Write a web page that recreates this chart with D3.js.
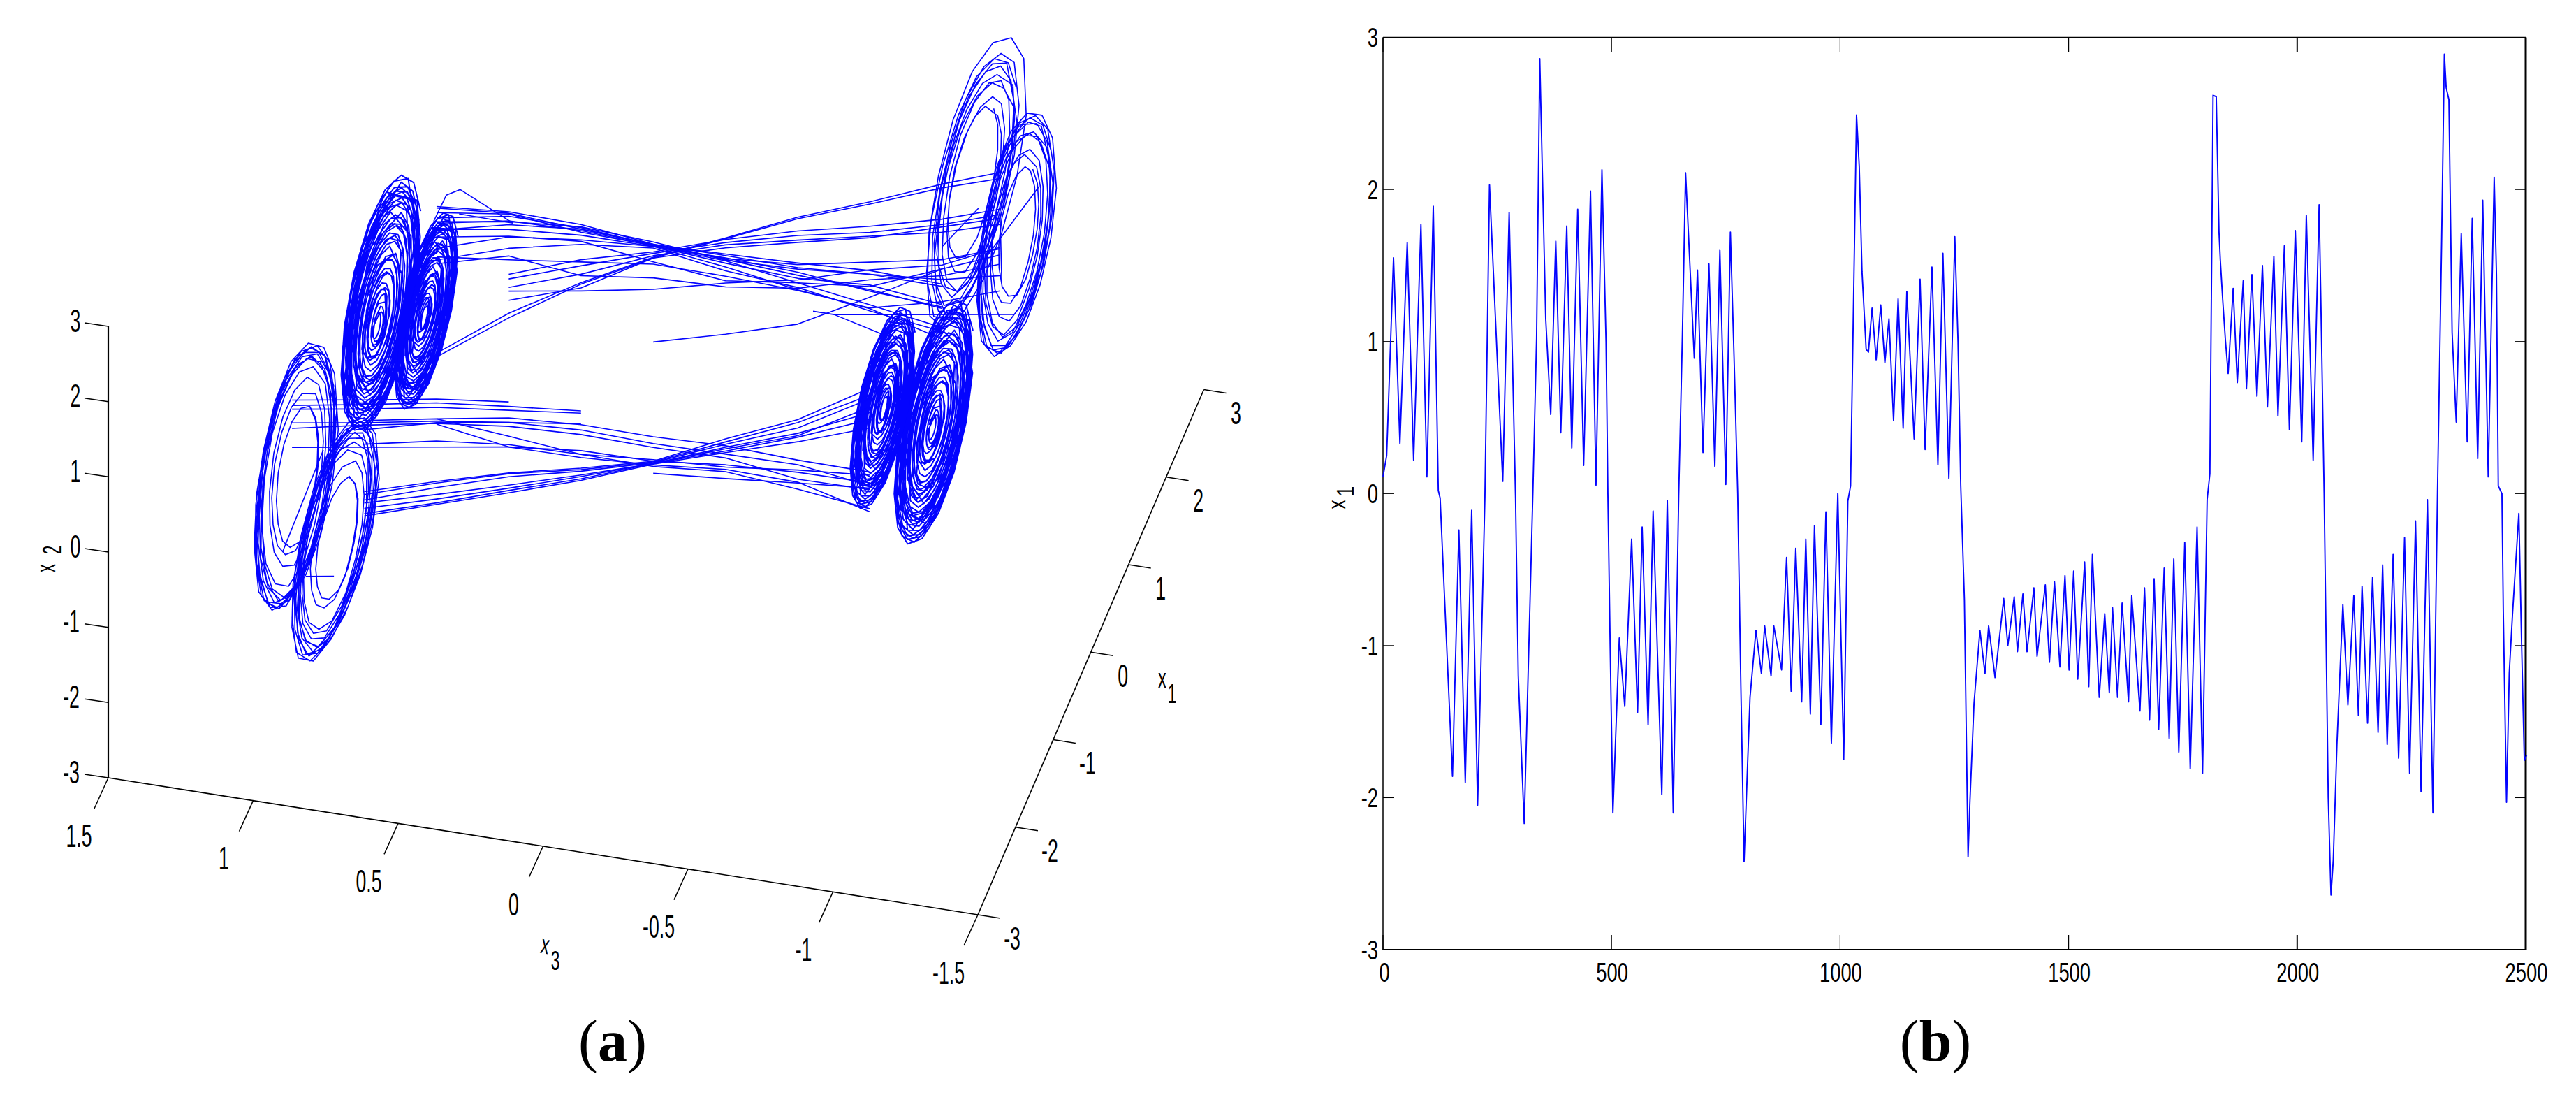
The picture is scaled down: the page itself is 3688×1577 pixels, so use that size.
<!DOCTYPE html>
<html>
<head>
<meta charset="utf-8">
<script src="https://cdnjs.cloudflare.com/ajax/libs/d3/7.8.5/d3.min.js"></script>
<style>
  html, body { margin: 0; background: #fff; }
  svg { display: block; }
  text { font-family: "Liberation Sans", sans-serif; fill: #000; }
  .mark { fill: none; stroke: #0404ff; stroke-width: 1.6; stroke-linejoin: round; }
  .dense { stroke-width: 1.9; }
  .trace { stroke-width: 1.9; }
</style>
</head>
<body>
<svg id="chart" width="3688" height="1577"></svg>
<script>
// panel (b): x1 over time, turning points
const x1T = [0,8,23,37,53,67,83,96,110,121,125,152,166,180,194,207,223,233,262,276,290,296,309,328,336,343,356,367,378,389,402,413,426,439,454,466,479,488,492,497,503,517,529,544,557,567,580,591,610,622,635,647,655,662,681,688,700,713,726,737,750,760,768,776,783,790,803,816,828,835,849,855,872,883,893,903,916,925,935,944,958,969,981,995,1008,1017,1023,1036,1042,1048,1057,1062,1070,1079,1089,1098,1107,1117,1127,1138,1146,1162,1175,1186,1201,1214,1225,1238,1251,1258,1264,1272,1280,1284,1293,1306,1317,1325,1339,1358,1367,1381,1388,1400,1409,1424,1431,1449,1458,1469,1481,1492,1501,1511,1520,1535,1544,1552,1567,1579,1589,1596,1607,1617,1631,1638,1656,1666,1677,1687,1697,1709,1720,1730,1741,1754,1766,1781,1793,1803,1809,1816,1823,1829,1832,1837,1843,1849,1860,1869,1882,1889,1901,1912,1924,1935,1949,1958,1972,1983,1996,2010,2020,2035,2048,2053,2059,2068,2074,2079,2087,2100,2111,2124,2134,2142,2154,2165,2177,2187,2197,2210,2222,2235,2246,2259,2271,2285,2297,2307,2316,2322,2326,2332,2339,2348,2359,2372,2383,2395,2406,2418,2431,2436,2440,2448,2451,2458,2464,2471,2485,2491,2497,2502];
const x1V = [0.11,0.25,1.55,0.33,1.65,0.22,1.77,0.11,1.89,0.02,-0.03,-1.86,-0.24,-1.90,-0.11,-2.05,-0.02,2.03,0.08,1.85,-0.03,-1.20,-2.17,0.02,1.02,2.86,1.15,0.52,1.66,0.40,1.76,0.30,1.87,0.185,1.99,0.055,2.13,1.00,0.0,-0.99,-2.10,-0.95,-1.40,-0.30,-1.44,-0.22,-1.52,-0.115,-1.98,-0.045,-2.10,-0.01,1.04,2.11,0.89,1.47,0.27,1.51,0.18,1.60,0.06,1.72,0.90,0.0,-1.27,-2.42,-1.34,-0.90,-1.185,-0.87,-1.20,-0.87,-1.16,-0.42,-1.30,-0.36,-1.37,-0.30,-1.45,-0.21,-1.52,-0.12,-1.64,0.0,-1.75,-0.05,0.05,2.49,2.15,1.46,0.95,0.93,1.22,0.88,1.24,0.86,1.15,0.48,1.28,0.43,1.33,0.36,1.41,0.29,1.49,0.19,1.58,0.10,1.69,1.0,0.05,-0.70,-2.39,-2.03,-1.38,-0.90,-1.185,-0.87,-1.21,-0.69,-1.0,-0.68,-1.04,-0.66,-1.04,-0.62,-1.07,-0.60,-1.11,-0.58,-1.14,-0.54,-1.16,-0.51,-1.22,-0.45,-1.27,-0.40,-1.34,-0.79,-1.31,-0.75,-1.34,-0.72,-1.37,-0.67,-1.43,-0.62,-1.49,-0.56,-1.55,-0.49,-1.61,-0.43,-1.70,-0.32,-1.81,-0.22,-1.84,-0.04,0.13,2.62,2.61,1.72,1.53,1.28,1.01,0.79,1.35,0.73,1.40,0.69,1.44,0.64,1.50,0.57,1.56,0.51,1.63,0.42,1.73,0.34,1.83,0.22,1.90,1.07,0.0,-2.0,-2.64,-2.41,-1.65,-0.73,-1.39,-0.67,-1.46,-0.61,-1.51,-0.55,-1.57,-0.47,-1.65,-0.40,-1.74,-0.29,-1.84,-0.18,-1.96,-0.04,-2.10,0.01,1.65,2.89,2.67,2.59,1.06,0.47,1.71,0.34,1.81,0.23,1.93,0.11,2.08,1.44,0.05,0.0,-0.78,-2.03,-1.18,-0.80,-0.13,-0.99,-1.755,-1.72];

const timeTicks = [0,500,1000,1500,2000,2500];
const x1Ticks = [-3,-2,-1,0,1,2,3];

// panel (a): axis ticks
const x3Ticks = [1.5,1,0.5,0,-0.5,-1,-1.5];
const x3TickNames = ["1.5","1","0.5","0","-0.5","-1","-1.5"];
const depthTicks = [-3,-2,-1,0,1,2,3];
const heightTicks = [-3,-2,-1,0,1,2,3];

// panel (a): the eight scroll centres and their loop radii, [x3, x1, x2]
const scrollX3 = [1.07,0.914,1.107,0.971,-0.923,-1.10,-0.985,-1.128];
const scrollX1 = [1,1,-1,-1,-1,-1,1,1];
const scrollX2 = [-1.10,-1.11,-1.09,-1.83,0.99,0.914,1.68,1.12];
const scrollR1 = [1.06,0.855,1.07,1.12,0.87,1.05,1.35,1.01];
const scrollR2 = [1.16,0.85,1.24,0.92,0.88,1.07,1.20,1.10];
const scrollTilt = [0.03,0.02,0.05,0.05,0.02,0.03,0.05,0.05];
const focusD1 = [-0.11,-0.07,0,0,0.03,-0.03,0,0];
const focusD2 = [-0.2,-0.02,0,0,-0.04,-0.05,0,0];
const denseLoops = [1,0.985,0.965,0.95,0.93,0.915,0.895,0.88,0.86,0.84,0.82,0.805,0.78,0.76,0.735,0.715,0.69,0.67,0.64,0.62,0.59,0.565,0.535,0.51,0.48,0.45,0.42,0.39,0.355,0.32,0.285,0.25,0.215,0.18,0.14,0.1];
const denseLoops2 = [1,0.98,0.96,0.94,0.925,0.9,0.885,0.86,0.84,0.825,0.8,0.775,0.755,0.73,0.705,0.68,0.66,0.63,0.6,0.575,0.55,0.52,0.49,0.46,0.43,0.4,0.37,0.34,0.3,0.27,0.23,0.19,0.15,0.12];
const looseLoops = [
  [0.95,1,0.93,0.97,0.9,0.95,0.86,0.92,0.82,0.88,0.72,0.62,0.52],
  [0.93,1,0.96,0.9,0.94,0.86,0.92,0.8,0.88,0.72,0.84,0.62,0.5],
  [0.82,1,0.78,0.86,0.72,0.8,0.66,0.74,0.6,0.5],
  [0.93,1,0.9,0.96,0.84,0.9,0.78,0.84,0.7,0.62,0.52]
];
const loopScroll = [2,3,6,7];
// how far a loop's rim reaches at each of its corners (the lower tip is pointed)
const rimReach = [1,1,1,1,0.98,0.97,1,1.03,1.07,1.04,0.97,0.95,0.95,0.97,1];
// small drift of successive loops off the scroll centre
const drift1 = [0,0.05,-0.04,0.08,-0.07,0.03,0.1,-0.09,0.02,-0.05,0.07];
const drift2 = [0,-0.06,0.05,0.03,-0.09,0.08,-0.02,0.06,-0.07,0.1,-0.04];

// wing lines: x2 at fixed x3 stations, x1 held at 0
const upperX3 = [0.75,0.5,0.25,0,-0.25,-0.5,-0.75,-1,-1.2];
const upperWings = [
  [1.50,1.58,1.56,1.45,1.45,1.44,1.50,1.49,null],
  [1.48,1.56,1.50,1.44,1.40,1.34,1.30,1.20,null],
  [1.42,1.55,1.46,1.43,1.38,1.24,1.10,0.95,null],
  [1.35,1.52,1.52,1.44,1.47,1.50,1.55,1.52,null],
  [1.28,1.46,1.48,1.43,1.35,1.30,1.36,1.25,null],
  [1.20,1.35,1.42,1.42,1.42,1.38,1.28,1.22,null],
  [0.95,1.25,1.36,1.42,1.30,1.15,1.05,0.80,null],
  [0.80,1.10,1.30,1.40,1.25,1.18,1.02,0.90,null],
  [-0.42,0.25,0.80,1.28,1.68,2.10,2.45,2.83,3.1],
  [-0.47,0.19,0.78,1.27,1.67,2.08,2.42,2.78,3.02],
  [null,0.76,1.10,1.35,1.66,1.92,2.13,2.37,2.62],
  [null,0.70,1.02,1.33,1.62,1.86,2.05,2.30,2.55],
  [null,0.59,0.91,1.30,1.59,1.80,2.00,2.20,2.42],
  [null,0.42,0.73,1.27,1.55,1.77,1.98,2.27,2.5],
  [null,0.54,0.69,0.86,1.09,1.28,1.56,1.77,2.12],
  [1.19,1.41,1.50,1.45,1.41,1.48,1.66,1.84,2.1],
  [1.30,1.45,1.53,1.48,1.39,1.42,1.50,1.58,1.75],
  [1.10,1.26,1.34,1.22,1.12,1.24,1.34,1.72,2.02],
  [0.84,0.95,1.07,1.19,1.18,1.14,1.06,1.29,1.55],
  [0.75,1.00,0.89,1.01,1.04,1.17,1.43,1.63,1.9],
  [null,null,null,0.17,0.42,0.70,1.20,1.72,null]
];
const lowerX3 = [1.25,1,0.75,0.5,0.25,0,-0.25,-0.5,-0.75];
const lowerWings = [
  [null,-2.38,-2.10,-1.84,-1.63,-1.39,-0.95,-0.55,0.01],
  [null,-2.42,-2.12,-1.85,-1.65,-1.40,-0.99,-0.59,-0.08],
  [null,-2.49,-2.18,-1.89,-1.67,-1.41,-1.02,-0.66,-0.13],
  [null,-2.67,-2.38,-2.07,-1.77,-1.42,-1.11,-0.78,-0.40],
  [null,-2.70,-2.40,-2.10,-1.79,-1.43,-1.13,-0.84,-0.51],
  [null,-2.53,-2.27,-2.00,-1.72,-1.42,-1.06,-0.73,-0.31],
  [null,-2.60,-2.33,-2.04,-1.74,-1.42,-1.08,-0.76,-0.24],
  [null,null,-1.28,-1.12,-1.06,-1.07,-1.04,-1.08,-1.09],
  [null,null,-1.35,-1.50,-1.49,-1.44,-1.35,-1.37,-1.61],
  [null,-1.45,-1.28,-1.36,-1.45,-1.46,-1.38,-1.46,-1.57],
  [-1.95,-1.80,-1.65,-1.50,-1.40,-1.39,-1.29,-1.24,-1.23],
  [-1.63,-1.48,-1.31,-1.18,-1.13,-1.16,-1.15,-1.14,-1.27],
  [-1.70,-1.51,-1.34,-1.23,-1.19,-1.21,-1.20,-1.33,-1.32],
  [null,-1.76,-1.57,-1.47,-1.45,-1.37,-1.32,-1.21,-1.13],
  [-1.33,-1.18,-1.02,-0.91,null,null,null,null,null],
  [-1.45,-1.30,-1.13,-1.02,-0.91,null,null,null,null],
  [-1.40,-1.24,-1.07,-0.97,-0.88,null,null,null,null],
  [null,-1.57,-1.33,-1.18,-1.05,null,null,null,null],
  [null,null,null,null,null,-1.55,-1.47,-1.38,-1.30]
];
// stray pieces of the trajectory: [x3, x2] with x1 held at 0
const strayLines = [
  [[0.76,1.30],[0.716,1.67],[0.668,1.77],[0.486,1.44],[0.672,1.45]],
  [[1.282,-3.33],[1.142,-1.92]],
  [[1.202,-3.61],[1.105,-3.55]],
  [[-1.002,2.02],[-1.126,2.59]],
  [[-1.15,1.95],[-1.336,3.0]],
  [[-1.206,1.69],[-1.2,2.58]],
  [[-0.553,0.90],[-0.626,0.90],[-0.804,0.73]],
  [[-0.626,0.90],[-1.249,1.27]]
];

const svg = d3.select("#chart");

function label(g, x, y, str, size, squeeze, rot) {
  g.append("text")
    .attr("transform", `translate(${x},${y}) rotate(${rot || 0}) scale(${squeeze},1)`)
    .attr("text-anchor", "middle")
    .attr("dy", "0.36em")
    .attr("font-size", size)
    .text(str);
}
function rule(g, x1, y1, x2, y2, w) {
  g.append("line").attr("x1", x1).attr("y1", y1).attr("x2", x2).attr("y2", y2)
    .attr("stroke", "#000").attr("stroke-width", w || 1.5);
}

// ---------- panel a ----------
const a = svg.append("g");

// axis scales along the three visible edges
const x3EdgeX = d3.scaleLinear().domain([1.5, -1.5]).range([155, 1400]);
const x3EdgeY = d3.scaleLinear().domain([1.5, -1.5]).range([1113, 1309]);
const x1EdgeX = d3.scaleLinear().domain([-3, 3]).range([1400, 1723.5]);
const x1EdgeY = d3.scaleLinear().domain([-3, 3]).range([1309, 557.5]);
const x2EdgeY = d3.scaleLinear().domain([-3, 3]).range([1113, 467]);

rule(a, 155, x2EdgeY(-3), 155, x2EdgeY(3), 2.2);
rule(a, x3EdgeX(1.5), x3EdgeY(1.5), x3EdgeX(-1.5), x3EdgeY(-1.5), 1.6);
rule(a, x1EdgeX(-3), x1EdgeY(-3), x1EdgeX(3), x1EdgeY(3), 1.6);

heightTicks.forEach(v => {
  const y = x2EdgeY(v);
  rule(a, 155, y, 121, y - 5, 1.5);
  label(a, v < 0 ? 102 : 108, y - 9, String(v), 46, 0.58);
});
x3Ticks.forEach((v, i) => {
  const x = x3EdgeX(v), y = x3EdgeY(v);
  rule(a, x, y, x - 20, y + 44, 1.5);
  label(a, x - 42, y + 82, x3TickNames[i], 46, 0.58);
});
depthTicks.forEach(v => {
  const x = x1EdgeX(v), y = x1EdgeY(v);
  rule(a, x, y, x + 32, y + 5, 1.5);
  label(a, x + (v < 0 ? 49 : 46), y + 33, String(v), 46, 0.58);
});

// axis names
label(a, 781, 1351, "x", 38, 0.62, 10);
label(a, 795, 1374, "3", 38, 0.6);
label(a, 1664, 970, "x", 38, 0.62);
label(a, 1678, 992, "1", 38, 0.6);
label(a, 65, 813, "x", 38, 0.62, -90);
label(a, 74, 787, "2", 38, 0.6, -90);

// the picture's own projection of (x3, x1, x2)
const screenX3 = d3.scaleLinear().domain([0, 1]).range([0, -413.7]);
const screenX1 = d3.scaleLinear().domain([0, 1]).range([0, 53.25]);
const lift3 = d3.scaleLinear().domain([0, 1]).range([0, -64.7]);
const lift1 = d3.scaleLinear().domain([0, 1]).range([0, -124.7]);
const lift2 = d3.scaleLinear().domain([0, 1]).range([0, -109.3]);
const line3d = d3.line()
  .defined(d => d[2] !== null)
  .x(d => 935.25 + screenX3(d[0]) + screenX1(d[1]))
  .y(d => 508 + lift3(d[0]) + lift1(d[1]) + lift2(d[2]))
  .curve(d3.curveLinear);

function scrollPath(i, loops, loose) {
  const pts = [];
  const n = rimReach.length;
  loops.forEach((f, j) => {
    const next = j + 1 < loops.length ? loops[j + 1] : f;
    const d = j % drift1.length;
    const amount = loose ? 1 : 0.35;
    for (let v = 0; v < n; v++) {
      const r = (f + (next - f) * v / n) * (loose ? rimReach[v] : 1);
      const th = (loose ? j * 0.09 : j * 0.61) + v * 2 * Math.PI / n;
      pts.push([
        scrollX3[i] + scrollTilt[i] * r * Math.sin(th),
        scrollX1[i] + drift1[d] * amount * (1 - f) * 2 + focusD1[i] * (1 - r) + scrollR1[i] * r * Math.cos(th),
        scrollX2[i] + drift2[d] * amount * (1 - f) * 2 + focusD2[i] * (1 - r) + scrollR2[i] * r * Math.sin(th)
      ]);
    }
  });
  return pts;
}

[0, 5].forEach(i => a.append("path").attr("class", "mark dense").attr("d", line3d(scrollPath(i, denseLoops, false))));
[1, 4].forEach(i => a.append("path").attr("class", "mark dense").attr("d", line3d(scrollPath(i, denseLoops2, false))));
loopScroll.forEach((s, k) => a.append("path").attr("class", "mark").attr("d", line3d(scrollPath(s, looseLoops[k], true))));

upperWings.forEach(w => a.append("path").attr("class", "mark")
  .attr("d", line3d(upperX3.map((x, i) => [x, 0, w[i]]))));
lowerWings.forEach(w => a.append("path").attr("class", "mark")
  .attr("d", line3d(lowerX3.map((x, i) => [x, 0, w[i]]))));
strayLines.forEach(s => a.append("path").attr("class", "mark")
  .attr("d", line3d(s.map(p => [p[0], 0, p[1]]))));

// ---------- panel b ----------
const b = svg.append("g");
const x = d3.scaleLinear().domain([0, 2500]).range([1980, 3616]);
const y = d3.scaleLinear().domain([-3, 3]).range([1359, 53.6]);

rule(b, 1980, y(3), 3616, y(3), 1.5);
rule(b, 1980, y(-3), 3616, y(-3), 2.2);
rule(b, x(0), y(3), x(0), y(-3), 1.5);
rule(b, x(2500), y(3), x(2500), y(-3), 3);

timeTicks.forEach(t => {
  rule(b, x(t), y(3), x(t), y(3) + 21, t === 2000 ? 2 : 1.2);
  rule(b, x(t), y(-3), x(t), y(-3) - 21, t === 2000 ? 2 : 1.2);
  label(b, x(t) + (t === 0 ? 2 : 1), 1391, String(t), 38, 0.72);
});
x1Ticks.forEach(v => {
  rule(b, x(0), y(v), x(0) + 16, y(v), 1.2);
  rule(b, x(2500), y(v), x(2500) - 16, y(v), 1.2);
  b.append("text")
    .attr("transform", `translate(1973,${y(v)}) scale(0.72,1)`)
    .attr("text-anchor", "end").attr("dy", "0.36em").attr("font-size", 38)
    .text(String(v));
});

label(b, 1913, 722, "x", 36, 0.72, -90);
label(b, 1925, 703, "1", 36, 0.72, -90);

const series = x1T.map((t, i) => [t, x1V[i]]);
b.append("path").datum(series).attr("class", "mark trace")
  .attr("d", d3.line().x(d => x(d[0])).y(d => y(d[1])));

// panel letters
[["a", 877], ["b", 2771]].forEach(p => {
  const t = svg.append("text").attr("x", p[1]).attr("y", 1518)
    .attr("text-anchor", "middle").attr("font-size", 84)
    .style("font-family", '"Liberation Serif", serif');
  t.append("tspan").text("(");
  t.append("tspan").attr("font-weight", "bold").text(p[0]);
  t.append("tspan").text(")");
});
</script>
</body>
</html>
